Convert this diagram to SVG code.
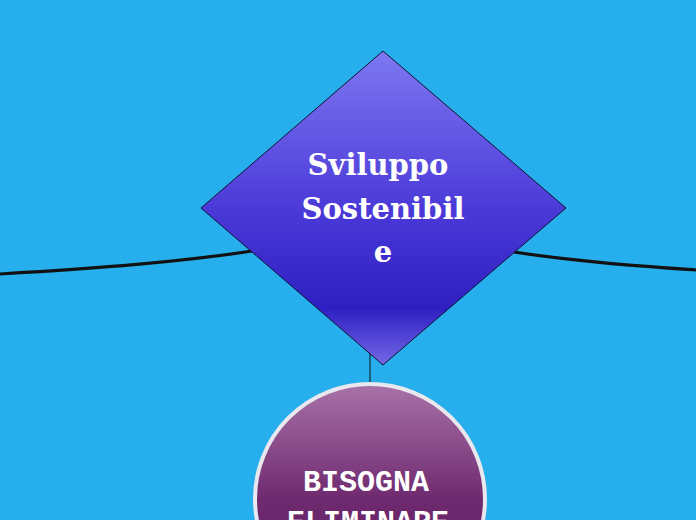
<svg xmlns="http://www.w3.org/2000/svg" width="696" height="520" viewBox="0 0 696 520">
<defs>
<linearGradient id="gd" x1="0" y1="0" x2="0" y2="1">
<stop offset="0" stop-color="#7d78f2"/>
<stop offset="0.5" stop-color="#4b3ad8"/>
<stop offset="0.82" stop-color="#2e1fc2"/>
<stop offset="1" stop-color="#7468e6"/>
</linearGradient>
<linearGradient id="gc" x1="0" y1="0" x2="0" y2="1">
<stop offset="0" stop-color="#a872a8"/>
<stop offset="0.5" stop-color="#6f2a6f"/>
<stop offset="1" stop-color="#5a1a5a"/>
</linearGradient>
<style>
.t1{font-family:"DejaVu Serif","Liberation Serif",serif;font-weight:bold;font-size:29px;fill:#ffffff;text-anchor:middle}
.t2{font-family:"Liberation Mono","DejaVu Sans Mono",monospace;font-weight:bold;font-size:30px;fill:#ffffff;text-anchor:middle}
.conn{fill:none;stroke:#111111}
</style>
</defs>
<rect width="696" height="520" fill="#27aeed"/>
<g id="connectors">
<path class="conn" stroke-width="3.2" d="M0,274 C100,268 180,262 252,251"/>
<path class="conn" stroke-width="3.2" d="M514,252 C580,262 640,266 696,270"/>
<line class="conn" stroke-width="1" x1="370" y1="352" x2="370" y2="383"/>
</g>
<g id="node-main">
<polygon points="383,51 566,208 383,365 201,208" fill="url(#gd)" stroke="#111133" stroke-width="1"/>
<text class="t1" x="378" y="175">Sviluppo</text>
<text class="t1" x="383" y="219">Sostenibil</text>
<text class="t1" x="383" y="262">e</text>
</g>
<g id="node-circle">
<circle cx="370" cy="499" r="115" fill="url(#gc)" stroke="#e8e8ee" stroke-width="4"/>
<text class="t2" x="366" y="491">BISOGNA</text>
<text class="t2" x="368" y="531">ELIMINARE</text>
</g>
</svg>
